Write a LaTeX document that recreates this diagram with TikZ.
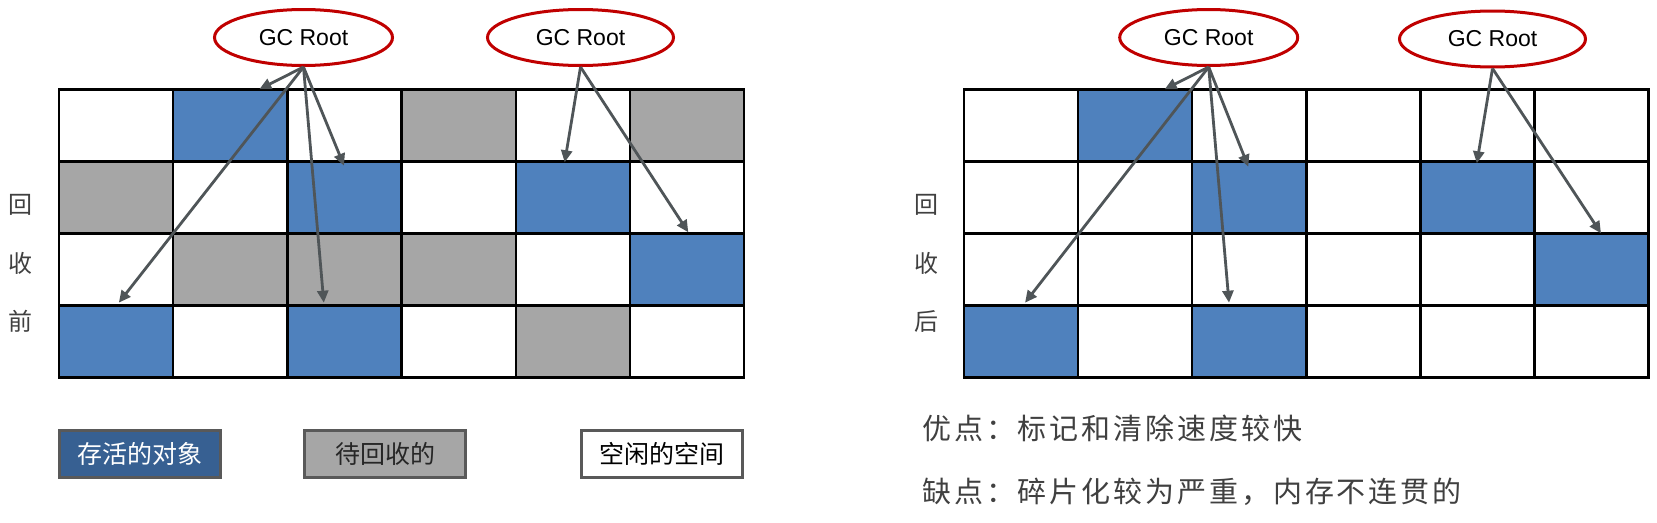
\documentclass[tikz,border=0pt]{standalone}
\usepackage{fontspec}
\setmainfont{Liberation Sans}
\newfontfamily\cjk{Noto Sans CJK SC}
\newfontfamily\cjkls[LetterSpace=10]{Noto Sans CJK SC}
\usetikzlibrary{shapes.geometric,arrows.meta}
\definecolor{cblue}{HTML}{4F81BD}
\definecolor{cgray}{HTML}{A6A6A6}
\definecolor{dblue}{HTML}{376092}
\definecolor{cred}{HTML}{C00000}
\definecolor{arr}{HTML}{4F5558}
\definecolor{bord}{HTML}{595959}
\definecolor{txt}{HTML}{404040}
\begin{document}
\begin{tikzpicture}[x=1pt,y=-1pt,
  root/.style={ellipse, draw=cred, line width=3pt, fill=white, inner sep=0pt, minimum height=56pt, font=\fontsize{23}{26}\selectfont},
  ptr/.style={draw=arr, line width=2.8pt, -{Triangle[length=12pt,width=11pt]}},
  gridline/.style={draw=black, line width=2.4pt},
  legend/.style={draw=bord, line width=3pt, minimum width=161pt, minimum height=47pt, inner sep=0pt, font=\cjk\fontsize{25}{28}\selectfont},
  side/.style={text=txt, inner sep=0pt, font=\cjk\fontsize{24}{26}\selectfont},
  note/.style={anchor=west, text=txt, inner sep=0pt, font=\cjkls\fontsize{29}{32}\selectfont}
]
\useasboundingbox (0,0) rectangle (1657,522);
\fill[white] (0,0) rectangle (1657,522);

% ---------- left grid ----------
\foreach \c/\r in {1/0,2/1,4/1,5/2,0/3,2/3}
  \fill[cblue] ({59+\c*114.2},{89.5+\r*72}) rectangle +(114.2,72);
\foreach \c/\r in {3/0,5/0,0/1,1/2,2/2,3/2,4/3}
  \fill[cgray] ({59+\c*114.2},{89.5+\r*72}) rectangle +(114.2,72);
\foreach \i in {0,...,6}
  \draw[gridline] ({59+\i*114.2},89.5) -- ({59+\i*114.2},377.5);
\foreach \j in {0,...,4}
  \draw[gridline] (58,{89.5+\j*72}) -- (745.2,{89.5+\j*72});

% ---------- right grid ----------
\foreach \c/\r in {1/0,2/1,4/1,5/2,0/3,2/3}
  \fill[cblue] ({964+\c*114.1},{89.5+\r*72}) rectangle +(114.1,72);
\foreach \i in {0,...,6}
  \draw[gridline] ({964+\i*114.1},89.5) -- ({964+\i*114.1},377.5);
\foreach \j in {0,...,4}
  \draw[gridline] (963,{89.5+\j*72}) -- (1649.6,{89.5+\j*72});

% ---------- roots ----------
\node[root, minimum width=178pt] (L1) at (303.5,37.5) {GC Root};
\node[root, minimum width=186pt] (L2) at (580.5,37.5) {GC Root};
\node[root, minimum width=178pt] (R1) at (1208.7,37.5) {GC Root};
\node[root, minimum width=186pt] (R2) at (1492.5,39) {GC Root};

% ---------- arrow targets ----------
\coordinate (la) at (259.3,89.3);
\coordinate (lb) at (118.8,302.7);
\coordinate (lc) at (323.8,302.7);
\coordinate (ld) at (344,165.7);
\coordinate (le) at (564.7,162.3);
\coordinate (lf) at (688.3,232.3);
\coordinate (ra) at (1164.6,89.3);
\coordinate (rb) at (1025,302.7);
\coordinate (rc) at (1229,302.7);
\coordinate (rd) at (1248.3,166.7);
\coordinate (re) at (1476.8,163.3);
\coordinate (rf) at (1601,233.3);

\foreach \t in {la,lb,lc,ld} \draw[ptr] (L1.south) -- (\t);
\foreach \t in {le,lf} \draw[ptr] (L2.south) -- (\t);
\foreach \t in {ra,rb,rc,rd} \draw[ptr] (R1.south) -- (\t);
\foreach \t in {re,rf} \draw[ptr] (R2.south) -- (\t);

% ---------- side labels ----------
\node[side] (s1) at (21,205) {回};
\node[side] (s2) at (21,263) {收};
\node[side] (s3) at (21,321) {前};
\node[side] (t1) at (926,205) {回};
\node[side] (t2) at (926,263) {收};
\node[side] (t3) at (926,321) {后};

% ---------- legend ----------
\node[legend, fill=dblue, text=white] (g1) at (140,454) {存活的对象};
\node[legend, fill=cgray, text=black!85] (g2) at (385,454) {待回收的};
\node[legend, fill=white, text=black] (g3) at (661.5,454) {空闲的空间};

% ---------- notes ----------
\node[note] (n1) at (922,428) {优点：标记和清除速度较快};
\node[note] (n2) at (922,492) {缺点：碎片化较为严重，内存不连贯的};
\end{tikzpicture}
\end{document}
